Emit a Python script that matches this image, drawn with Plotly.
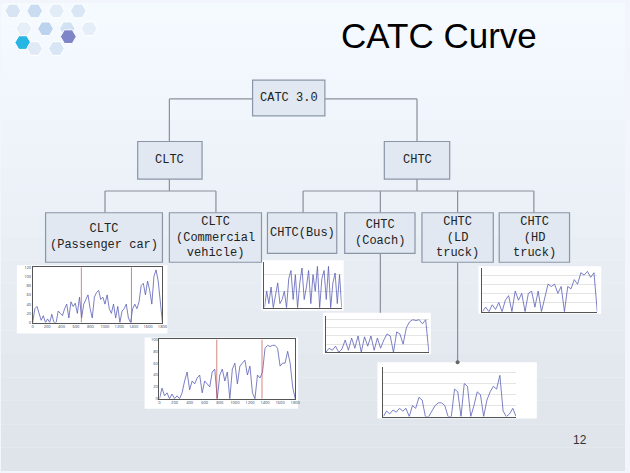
import math
import plotly.graph_objects as go

W, H = 630, 473

# tree boxes: label, x0, y0, x1, y1 (pixel coords on slide)
boxes = [
    ("CATC 3.0", 254, 78, 327, 114),
    ("CLTC", 138, 140, 203, 178),
    ("CHTC", 387, 140, 453, 178),
    ("CLTC<br>(Passenger car)", 45, 212, 163, 262),
    ("CLTC<br>(Commercial<br>vehicle)", 170, 212, 263, 262),
    ("CHTC(Bus)", 269, 212, 339, 253),
    ("CHTC<br>(Coach)", 347, 212, 418, 253),
    ("CHTC<br>(LD<br>truck)", 425, 212, 497, 262),
    ("CHTC<br>(HD<br>truck)", 503, 212, 574, 262),
]

# connector lines
lines = [
    (170, 97, 420, 97), (170, 97, 170, 140), (420, 97, 420, 140),
    (105, 190, 217, 190), (105, 190, 105, 212), (217, 190, 217, 212), (170, 178, 170, 190),
    (305, 190, 538, 190), (420, 178, 420, 190),
    (305, 190, 305, 212), (383, 190, 383, 212), (461, 190, 461, 212), (538, 190, 538, 212),
    (383, 253, 383, 313), (461, 262, 461, 363),
]

# speed traces (km/h) of each cycle, read from the thumbnails
cltc_p = [0, 30, 35, 20, 5, 15, 0, 8, 0, 18, 0, 0, 25, 20, 15, 30, 40, 10, 45, 35, 42,
          20, 55, 10, 40, 50, 60, 30, 10, 55, 65, 70, 50, 55, 40, 60, 30, 20, 40, 10, 35,
          0, 25, 30, 40, 10, 0, 30, 40, 30, 45, 80, 85, 60, 90, 70, 40, 100, 114, 90, 40, 0]
cltc_c = [0, 18, 5, 10, 0, 8, 0, 5, 0, 10, 30, 45, 15, 30, 25, 35, 40, 10, 30, 25, 20,
          45, 50, 0, 40, 50, 30, 45, 0, 50, 60, 25, 55, 60, 65, 40, 55, 10, 0, 40, 35,
          45, 85, 90, 88, 90, 90, 85, 55, 60, 60, 80, 60, 20, 0]
chtc_bus = [0, 20, 5, 25, 0, 15, 30, 5, 10, 20, 0, 35, 45, 10, 40, 0, 30, 48, 10, 25, 45,
            5, 40, 20, 50, 0, 35, 45, 10, 50, 0, 30, 42, 5, 40, 0]
chtc_coach = [0, 10, 5, 15, 0, 8, 30, 5, 35, 10, 40, 0, 38, 15, 40, 5, 35, 10, 30, 45,
              40, 0, 50, 45, 20, 60, 75, 80, 78, 80, 70, 80, 0]
chtc_ld = [0, 10, 5, 12, 8, 15, 10, 15, 0, 20, 15, 35, 30, 0, 0, 10, 20, 25, 25, 20, 0,
           0, 50, 45, 0, 60, 55, 0, 20, 45, 40, 0, 30, 45, 55, 50, 75, 10, 0, 5, 15, 0]
chtc_hd = [0, 10, 0, 15, 5, 20, 0, 25, 35, 0, 45, 25, 40, 0, 40, 45, 10, 45, 0, 30, 60,
           55, 60, 40, 55, 0, 55, 50, 70, 60, 85, 80, 88, 75, 85, 0]

# thumbnail: data, x0, y0, x1, y1 (pixels), red marker times, duration, y max, framed
thumbs = [
    (cltc_p, 32, 267, 163, 323, [675, 1370], 1800, 120, True),
    (cltc_c, 160, 340, 297, 400, [760, 1360], 1800, 100, True),
    (chtc_bus, 266, 262, 344, 308, [], 1300, 55, False),
    (chtc_coach, 328, 316, 432, 353, [], 1800, 90, False),
    (chtc_ld, 386, 368, 520, 418, [], 1650, 90, False),
    (chtc_hd, 486, 268, 602, 312, [], 1800, 95, False),
]
frames = [(16, 265, 168, 334), (145, 338, 300, 410), (263, 260, 346, 311),
          (325, 313, 434, 355), (380, 363, 541, 420), (482, 266, 606, 314)]

fig = go.Figure()
shapes = []
annots = []

# background gradient bands
for i in range(20):
    c = 255 - int(i * 1.2)
    shapes.append(dict(type="rect", x0=0, x1=W, y0=i * H / 20, y1=(i + 1) * H / 20,
                       xref="x", yref="y", fillcolor=f"rgb({c - 10},{c - 5},{min(255, c + 2)})",
                       line_width=0, layer="below"))

# hexagon decoration
hexes = [(12, 8, "#d6e4f4"), (34, 8, "#c9dcf2"), (56, 8, "#e2ecf7"), (78, 8, "#d9e6f5"),
         (23, 26, "#e6eef8"), (45, 26, "#bcd3ee"), (67, 26, "#d2e1f3"), (89, 26, "#e4edf8"),
         (22, 40, "#27b5e3"), (68, 34, "#7f86c7"), (56, 46, "#d7e5f5"), (34, 46, "#e0eaf6")]
for cx, cy, col in hexes:
    r = 8
    pts = [(cx + r * math.cos(math.pi / 3 * k), cy + r * math.sin(math.pi / 3 * k)) for k in range(6)]
    path = "M " + " L ".join(f"{px:.1f},{py:.1f}" for px, py in pts) + " Z"
    shapes.append(dict(type="path", path=path, xref="x", yref="y", fillcolor=col,
                       line=dict(color="white", width=1), layer="below"))

for x0, y0, x1, y1 in frames:
    shapes.append(dict(type="rect", x0=x0, y0=y0, x1=x1, y1=y1, xref="x", yref="y",
                       fillcolor="white", line_width=0, layer="below"))

for x0, y0, x1, y1 in lines:
    shapes.append(dict(type="line", x0=x0, y0=y0, x1=x1, y1=y1, xref="x", yref="y",
                       line=dict(color="#8a8f98", width=1.2)))
shapes.append(dict(type="circle", x0=459, y0=361, x1=463, y1=365, xref="x", yref="y",
                   fillcolor="#666", line_width=0))

for label, x0, y0, x1, y1 in boxes:
    shapes.append(dict(type="rect", x0=x0, y0=y0, x1=x1, y1=y1, xref="x", yref="y",
                       fillcolor="#e1e8f1", line=dict(color="#8a96a6", width=1.2)))
    annots.append(dict(x=(x0 + x1) / 2, y=(y0 + y1) / 2, xref="x", yref="y", text=label,
                       showarrow=False,
                       font=dict(family="Liberation Mono", size=12, color="#222")))

fig.add_trace(go.Scatter(x=[0], y=[0], mode="markers", marker=dict(opacity=0), showlegend=False))

for i, (data, x0, y0, x1, y1, reds, dur, ymax, labeled) in enumerate(thumbs, start=2):
    dt = dur / (len(data) - 1)
    t = [k * dt for k in range(len(data))]
    xa, ya = f"x{i}", f"y{i}"
    fig.add_trace(go.Scatter(x=t, y=data, mode="lines", xaxis=xa, yaxis=ya, showlegend=False,
                             line=dict(color="#5b5fb5", width=0.8)))
    for rt in reds:
        fig.add_trace(go.Scatter(x=[rt, rt], y=[0, ymax], mode="lines", xaxis=xa, yaxis=ya,
                                 showlegend=False, line=dict(color="#c0504d", width=0.7)))
    ax = dict(domain=[x0 / W, x1 / W], range=[0, dur], showgrid=False, zeroline=False,
              showline=True, linecolor="#555", linewidth=0.6, mirror=labeled,
              tickfont=dict(size=4), showticklabels=labeled, ticks="", dtick=200,
              anchor=ya)
    ay = dict(domain=[1 - y1 / H, 1 - y0 / H], range=[0, ymax], showgrid=not labeled,
              gridcolor="#e4e4e4", zeroline=False, showline=True, linecolor="#555",
              linewidth=0.6, mirror=labeled, tickfont=dict(size=4), dtick=20,
              showticklabels=labeled, anchor=xa)
    fig.update_layout(**{f"xaxis{i}": ax, f"yaxis{i}": ay})

annots.append(dict(x=442, y=33, xref="x", yref="y", text="CATC Curve", showarrow=False,
                   font=dict(family="Liberation Sans", size=35, color="black")))
annots.append(dict(x=585, y=442, xref="x", yref="y", text="12", showarrow=False,
                   font=dict(family="Liberation Sans", size=12, color="#333")))

fig.update_layout(
    width=W, height=H, margin=dict(l=0, r=0, t=0, b=0),
    paper_bgcolor="#f2f5fb", plot_bgcolor="rgba(0,0,0,0)",
    xaxis=dict(range=[0, W], visible=False, domain=[0, 1]),
    yaxis=dict(range=[H, 0], visible=False, domain=[0, 1]),
    shapes=shapes, annotations=annots,
)
fig.write_html("out.html", config={"displayModeBar": False},
               post_script="document.body.style.margin='0';")
